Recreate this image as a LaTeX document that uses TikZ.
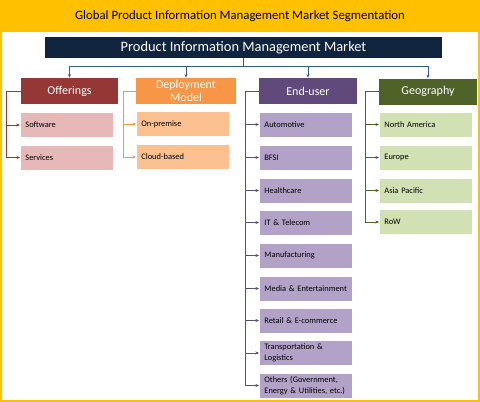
\documentclass[tikz,border=0pt]{standalone}
\usepackage{fontspec}
\setmainfont{Carlito}
\usetikzlibrary{arrows.meta}

\definecolor{titleyellow}{HTML}{FFC000}
\definecolor{headnavy}{HTML}{10243E}
\definecolor{linkblue}{HTML}{385D8A}
\definecolor{offdark}{HTML}{953735}
\definecolor{offlight}{HTML}{E6B9B8}
\definecolor{depdark}{HTML}{F79646}
\definecolor{deplight}{HTML}{FAC090}
\definecolor{enddark}{HTML}{604A7B}
\definecolor{endlight}{HTML}{B3A2C7}
\definecolor{geodark}{HTML}{4F6228}
\definecolor{geolight}{HTML}{D2E1B4}

\tikzset{every picture/.style={line width=0.75pt}}
\tikzset{
  catbox/.style={minimum width=97pt, minimum height=26pt, inner sep=1pt, text=white,
    font=\fontsize{12}{13}\selectfont, align=center},
  itembox/.style={anchor=west, minimum width=93pt, minimum height=25pt, inner xsep=5pt,
    text width=83pt, align=left, font=\fontsize{8.4}{10.5}\selectfont, draw=white, line width=0.8pt},
  mainlink/.style={draw=linkblue, line width=1pt},
  sublink/.style={line width=1pt},
  tip/.style={-{Stealth[length=3.5pt,width=3pt]}}
}

\begin{document}
\begin{tikzpicture}[x=1pt,y=1pt,yscale=-1,xscale=1]
\useasboundingbox (0,0) rectangle (480,402);

% frame and title band
\fill[titleyellow] (0,0) rectangle (480,402);
\fill[white] (2,32) rectangle (478,400);
\node (title) at (240,16) [font=\fontsize{12.8}{13}\selectfont] {Global Product Information Management Market Segmentation};

% Header
\node (pim) at (243.5,47.5) [fill=headnavy, minimum width=397pt, minimum height=21pt, inner sep=0pt, text=white,
  font=\fontsize{14.4}{15}\selectfont] {Product Information Management Market};

% Segments
\node[catbox, fill=offdark] (off) at (69.5,91) {Offerings};
\node[catbox, fill=depdark, minimum width=100pt] (dep) at (186,91) {Deployment\\Model};
\node[catbox, fill=enddark, minimum width=98pt] (end) at (308,91) {End-user};
\node[catbox, fill=geodark, minimum width=98pt] (geo) at (428,91.5) {Geography};

% Offerings items
\node[itembox, fill=offlight] (soft) at (20,125) {Software};
\node[itembox, fill=offlight] (serv) at (20,157.5) {Services};

% Deployment items
\node[itembox, fill=deplight] (onpr) at (136,124) {On-premise};
\node[itembox, fill=deplight] (cloud) at (136,157) {Cloud-based};

% End-user items
\node[itembox, fill=endlight] (auto) at (259,124.5) {Automotive};
\node[itembox, fill=endlight] (bfsi) at (259,157.5) {BFSI};
\node[itembox, fill=endlight] (hlth) at (259,190.5) {Healthcare};
\node[itembox, fill=endlight] (itel) at (259,222.5) {IT \& Telecom};
\node[itembox, fill=endlight] (manu) at (259,255.5) {Manufacturing};
\node[itembox, fill=endlight] (media) at (259,288.5) {Media \& Entertainment};
\node[itembox, fill=endlight] (retl) at (259,320.5) {Retail \& E-commerce};
\node[itembox, fill=endlight] (trans) at (259,353) {Transportation \&\\Logistics};
\node[itembox, fill=endlight] (oth) at (259,385.5) {Others (Government,\\Energy \& Utilities, etc.)};

% Geography items
\node[itembox, fill=geolight] (nam) at (379,124.5) {North America};
\node[itembox, fill=geolight] (eur) at (379,157.5) {Europe};
\node[itembox, fill=geolight] (apac) at (379,190.5) {Asia Pacific};
\node[itembox, fill=geolight] (row) at (379,222) {RoW};

% Header to segments
\draw[mainlink] (pim.south) -- ++(0,8.5) coordinate (hub);
\foreach \seg in {off,dep,end,geo}
  \draw[mainlink, tip] (hub) -| (\seg.north);

% Segment brackets
\foreach \item in {soft,serv}
  \draw[sublink, draw=offdark, tip] (off.west) -- ++(-14,0) |- (\item.west);
\foreach \item in {onpr,cloud}
  \draw[sublink, draw=depdark, tip] (dep.west) -- ++(-12,0) |- (\item.west);
\foreach \item in {auto,bfsi,hlth,itel,manu,media,retl,trans,oth}
  \draw[sublink, draw=enddark, tip] (end.west) -- ++(-13,0) |- (\item.west);
\foreach \item in {nam,eur,apac,row}
  \draw[sublink, draw=geodark, tip] (geo.west) -- ++(-13,0) |- (\item.west);

\end{tikzpicture}
\end{document}
